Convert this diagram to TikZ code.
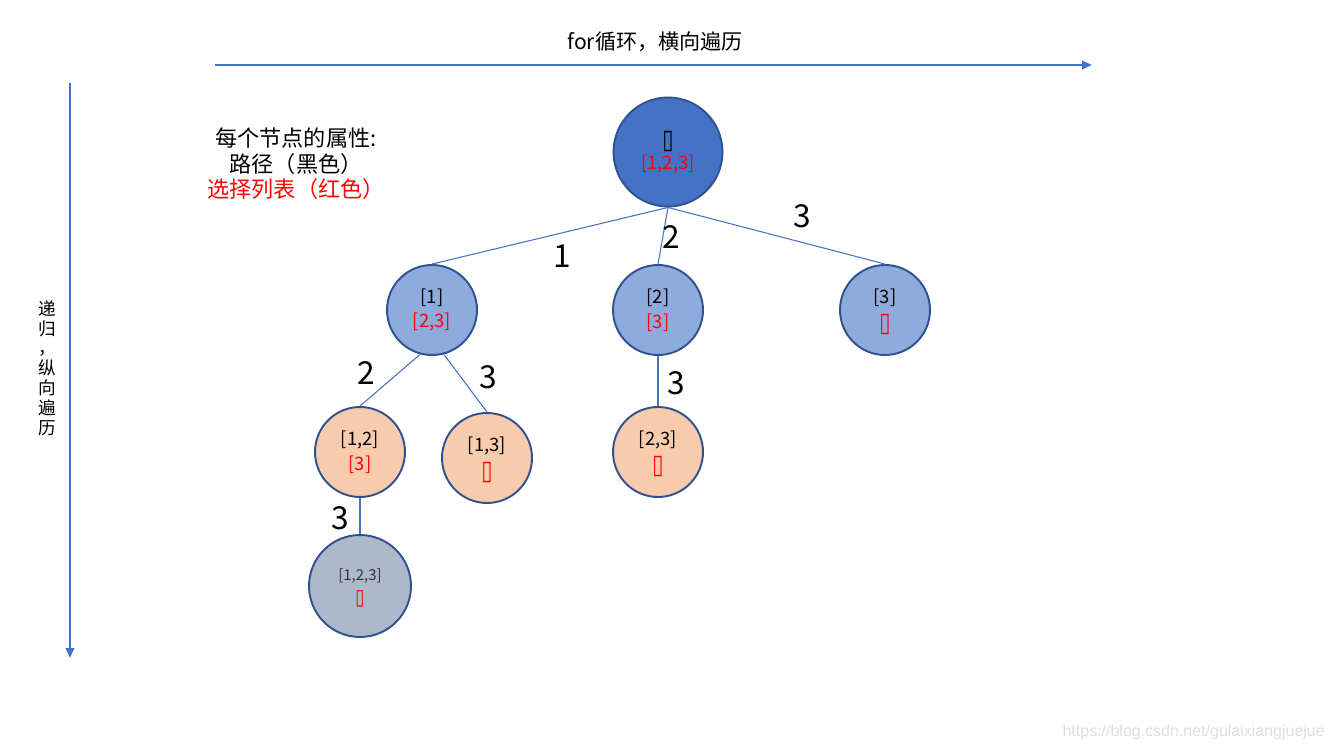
\documentclass[tikz,border=0pt]{standalone}
\usepackage{fontspec}
\setmainfont{Noto Sans CJK SC}
\newfontfamily\boxfont{DejaVu Sans}
\newfontfamily\urlfont{Liberation Sans}
\usetikzlibrary{arrows.meta}
\definecolor{axisblue}{HTML}{4472C4}
\definecolor{rootfill}{HTML}{4472C4}
\definecolor{levelfill}{HTML}{8FAADC}
\definecolor{leaffill}{HTML}{F8CBAD}
\definecolor{endfill}{HTML}{ADB9CA}
\definecolor{rimblue}{HTML}{2F528F}
\definecolor{choicered}{HTML}{FF0000}
\newcommand{\choice}[1]{\textcolor{choicered}{#1}}
\newcommand{\emptylist}{\vphantom{[]}\smash{\raisebox{-.35ex}{\scalebox{1.1}[1.45]{\boxfont\symbol{"25AF}}}}}
\tikzset{
  >={Triangle[length=2mm,width=1.7mm]},
  axis/.style={->,draw=axisblue,line width=1.2pt},
  branch/.style={draw=axisblue,line width=.6pt},
  state/.style={circle,draw=rimblue,line width=1.1pt,align=center,inner sep=0pt,
    font=\fontsize{10.5}{14}\selectfont,minimum size=1.8cm},
  branchnum/.style={font=\fontsize{18}{20}\selectfont,inner sep=0pt},
  caption/.style={font=\fontsize{12}{14.5}\selectfont,align=center,inner sep=0pt}
}

\begin{document}
\begin{tikzpicture}[x=0.02cm,y=-0.02cm]
  \useasboundingbox (0,0) rectangle (1338,749);

  % Traversal directions.
  \coordinate (hstart) at (215,65);
  \coordinate (hend) at (1092,65);
  \coordinate (vstart) at (70,83);
  \coordinate (vend) at (70,658);
  \draw[axis] (hstart) -- (hend);
  \draw[axis] (vstart) -- (vend);
  \node[caption] (htext) at (655,42) {for循环，横向遍历};
  \node[caption,font=\fontsize{10}{11.3}\selectfont] (vtext) at (47,368) {递\\归\\，\\纵\\向\\遍\\历};

  % Legend for the two lines inside each node.
  \node[caption,font=\fontsize{12.6}{14.6}\selectfont] (legend) at (296,164) {每个节点的属性:\\路径（黑色）\\\choice{选择列表（红色）}};

  % Decision tree states.
  \node[state,fill=rootfill,minimum size=2.18cm] (root) at (668,152) {\emptylist\\\choice{[1,2,3]}};
  \node[state,fill=levelfill] (one) at (432,310) {[1]\\\choice{[2,3]}};
  \node[state,fill=levelfill] (two) at (658,310) {[2]\\\choice{[3]}};
  \node[state,fill=levelfill] (three) at (885,310) {[3]\\\choice{\emptylist}};
  \node[state,fill=leaffill] (onetwo) at (360,452) {[1,2]\\\choice{[3]}};
  \node[state,fill=leaffill] (onethree) at (487,458) {[1,3]\\\choice{\emptylist}};
  \node[state,fill=leaffill] (twothree) at (658,452) {[2,3]\\\choice{\emptylist}};
  \node[state,fill=endfill,minimum size=2.04cm,font=\fontsize{8.5}{12}\selectfont] (full) at (360,586) {\textcolor{black!80}{[1,2,3]}\\\choice{\emptylist}};

  % Branches, labelled with the chosen element.
  \draw[branch] (root.south) -- (one.north);
  \draw[branch] (root.south) -- (two.north);
  \draw[branch] (root.south) -- (three.north);
  \draw[branch] (one.-105) -- (onetwo.north);
  \draw[branch] (one.-75) -- (onethree.north);
  \draw[branch] (two.south) -- (twothree.north);
  \draw[branch] (onetwo.south) -- (full.north);
  \node[branchnum] (pickone) at (562,256) {1};
  \node[branchnum] (picktwo) at (671,237) {2};
  \node[branchnum] (pickthree) at (802,216) {3};
  \node[branchnum] (picktwob) at (366,373) {2};
  \node[branchnum] (pickthreeb) at (488,377) {3};
  \node[branchnum] (pickthreec) at (676,383) {3};
  \node[branchnum] (pickthreed) at (340,518) {3};

  \node[anchor=east,font=\urlfont\fontsize{9.1}{10}\selectfont,text=black!13] (source) at (1331,732) {https://blog.csdn.net/gulaixiangjuejue};
\end{tikzpicture}
\end{document}
